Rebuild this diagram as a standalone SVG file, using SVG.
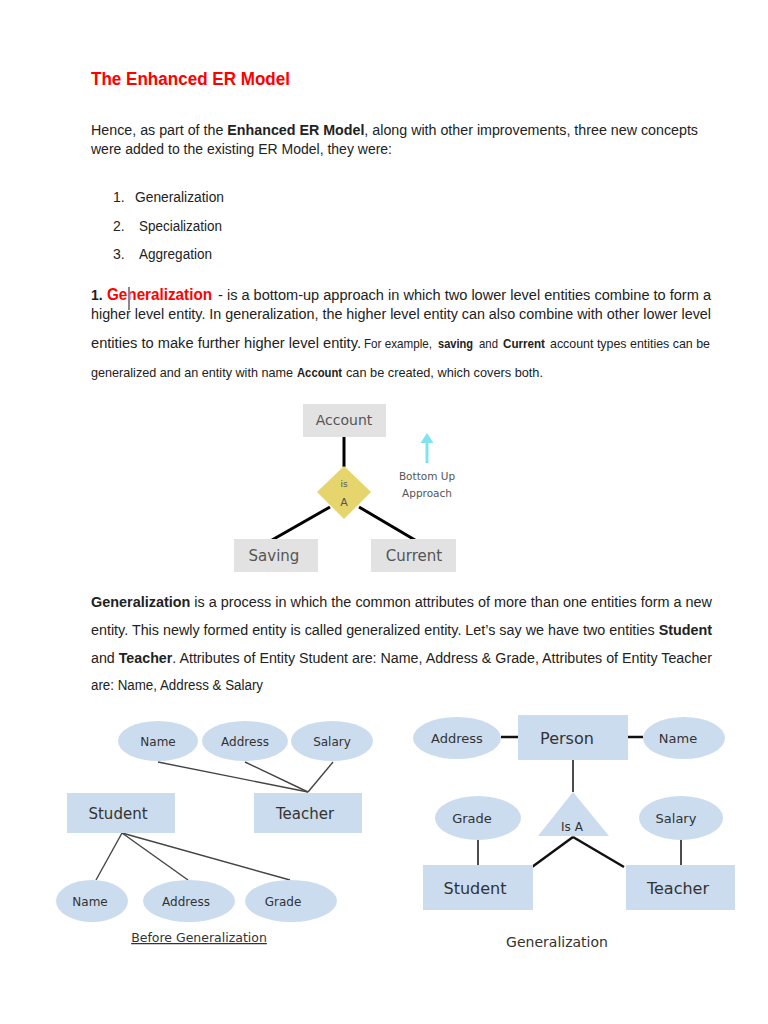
<svg xmlns="http://www.w3.org/2000/svg" width="768" height="1024" viewBox="0 0 768 1024">
<style>
.t{font-family:"Liberation Sans",Arial,sans-serif;font-size:14px;fill:#222}
.s{font-family:"Liberation Sans",Arial,sans-serif;font-size:13px;fill:#222}
.b{font-weight:bold}
.red{fill:#ff0000;font-weight:bold}
.d{font-family:"DejaVu Sans",sans-serif;fill:#333;text-anchor:middle}
.g{font-family:"DejaVu Sans",sans-serif;fill:#555;text-anchor:middle}
.ent{fill:#cbdcef}
.gent{fill:#e2e2e2}
.thin{stroke:#444;stroke-width:1.4;fill:none}
.thick{stroke:#111;stroke-width:2.5;fill:none}
.blk{stroke:#000;stroke-width:3;fill:none}
</style>
<rect width="768" height="1024" fill="#ffffff"/>

<!-- Text -->
<text class="red" x="91" y="85" font-family="Liberation Sans, Arial, sans-serif" font-size="18" textLength="199" lengthAdjust="spacingAndGlyphs">The Enhanced ER Model</text>

<text class="t" x="91" y="135" textLength="607" lengthAdjust="spacingAndGlyphs">Hence, as part of the <tspan class="b">Enhanced ER Model</tspan>, along with other improvements, three new concepts</text>
<text class="t" x="91" y="154" textLength="301" lengthAdjust="spacingAndGlyphs">were  added to the existing ER Model, they were:</text>

<text class="t" x="113" y="202">1.</text>
<text class="t" x="135" y="202" textLength="89" lengthAdjust="spacingAndGlyphs">Generalization</text>
<text class="t" x="113" y="231">2.</text>
<text class="t" x="139" y="231" textLength="83" lengthAdjust="spacingAndGlyphs">Specialization</text>
<text class="t" x="113" y="259">3.</text>
<text class="t" x="139" y="259" textLength="73" lengthAdjust="spacingAndGlyphs">Aggregation</text>

<text class="t b" x="91" y="300">1.</text>
<text class="red" x="107" y="300" font-family="Liberation Sans, Arial, sans-serif" font-size="16" textLength="105" lengthAdjust="spacingAndGlyphs">Generalization</text>
<line x1="129" y1="287" x2="129" y2="310" stroke="#888" stroke-width="2"/>
<text class="t" x="218" y="300" textLength="493" lengthAdjust="spacingAndGlyphs">- is a bottom-up approach in which two lower level entities combine to form a</text>
<text class="t" x="91" y="319" textLength="620" lengthAdjust="spacingAndGlyphs">higher level entity. In generalization, the higher level entity can also combine with other lower level</text>
<text class="t" x="91" y="348" textLength="270" lengthAdjust="spacingAndGlyphs">entities to make further higher level entity.</text>
<text class="s" x="364" y="348" textLength="68" lengthAdjust="spacingAndGlyphs">For example,</text>
<text class="s b" x="438" y="348" textLength="35" lengthAdjust="spacingAndGlyphs">saving</text>
<text class="s" x="479" y="348" textLength="19" lengthAdjust="spacingAndGlyphs">and</text>
<text class="s b" x="503" y="348" textLength="42" lengthAdjust="spacingAndGlyphs">Current</text>
<text class="s" x="550" y="348" textLength="160" lengthAdjust="spacingAndGlyphs">account types entities can be</text>
<text class="s" x="91" y="377" textLength="202" lengthAdjust="spacingAndGlyphs">generalized and an entity with name</text>
<text class="s b" x="297" y="377" textLength="45" lengthAdjust="spacingAndGlyphs">Account</text>
<text class="s" x="346" y="377" textLength="197" lengthAdjust="spacingAndGlyphs">can be created, which covers both.</text>

<text class="t" x="91" y="607" textLength="621" lengthAdjust="spacingAndGlyphs"><tspan class="b">Generalization</tspan> is a process in which the common attributes of more than one entities form a new</text>
<text class="t" x="91" y="635" textLength="621" lengthAdjust="spacingAndGlyphs">entity. This newly formed entity is called generalized entity. Let’s say we have two entities <tspan class="b">Student</tspan></text>
<text class="t" x="91" y="663" textLength="621" lengthAdjust="spacingAndGlyphs">and <tspan class="b">Teacher</tspan>. Attributes of Entity Student are: Name, Address &amp; Grade, Attributes of Entity Teacher</text>
<text class="t" x="91" y="690" textLength="172" lengthAdjust="spacingAndGlyphs">are: Name, Address &amp; Salary</text>

<!-- Diagram 1 connectors -->
<g id="connectors1">
<line class="blk" x1="344" y1="437" x2="344" y2="467"/>
<line class="blk" x1="330" y1="507" x2="272" y2="540"/>
<line class="blk" x1="359" y1="507" x2="415" y2="540"/>
<line x1="427" y1="463" x2="427" y2="441" stroke="#7fe4ef" stroke-width="3"/>
<polygon points="420.5,443 427,433 433.5,443" fill="#7fe4ef"/>
</g>
<g id="account"><rect class="gent" x="303" y="404" width="83" height="33"/><text class="g" x="344" y="425" font-size="14">Account</text></g>
<g id="isa1"><polygon points="344,466 371,492 344,519 317,492" fill="#e6d46c"/><text class="g" x="344" y="487" font-size="9">is</text><text class="g" x="344" y="506" font-size="11">A</text></g>
<g id="saving"><rect class="gent" x="234" y="539" width="84" height="33"/><text class="g" x="274" y="561" font-size="15">Saving</text></g>
<g id="current"><rect class="gent" x="371" y="539" width="85" height="33"/><text class="g" x="414" y="561" font-size="15">Current</text></g>
<g id="bottomup"><text class="g" x="427" y="480" font-size="10.5">Bottom Up</text><text class="g" x="427" y="497" font-size="10.5">Approach</text></g>

<!-- Diagram 2 -->
<g id="connectors2">
<line class="thin" x1="158" y1="762" x2="308" y2="792"/>
<line class="thin" x1="245" y1="762" x2="308" y2="792"/>
<line class="thin" x1="333" y1="762" x2="308" y2="792"/>
<line class="thin" x1="122" y1="833" x2="96" y2="880"/>
<line class="thin" x1="122" y1="833" x2="188" y2="880"/>
<line class="thin" x1="122" y1="833" x2="290" y2="880"/>
</g>
<g id="t-name"><ellipse class="ent" cx="158" cy="741" rx="40" ry="20"/><text class="d" x="158" y="746" font-size="12">Name</text></g>
<g id="t-address"><ellipse class="ent" cx="245" cy="741" rx="43" ry="20"/><text class="d" x="245" y="746" font-size="12">Address</text></g>
<g id="t-salary"><ellipse class="ent" cx="332" cy="741" rx="41" ry="20"/><text class="d" x="332" y="746" font-size="12">Salary</text></g>
<g id="student1"><rect class="ent" x="67" y="793" width="108" height="40"/><text class="d" x="118" y="819" font-size="15">Student</text></g>
<g id="teacher1"><rect class="ent" x="254" y="793" width="108" height="40"/><text class="d" x="305" y="819" font-size="15">Teacher</text></g>
<g id="s-name"><ellipse class="ent" cx="92" cy="901" rx="36" ry="21"/><text class="d" x="90" y="906" font-size="12">Name</text></g>
<g id="s-address"><ellipse class="ent" cx="189" cy="901" rx="46" ry="21"/><text class="d" x="186" y="906" font-size="12">Address</text></g>
<g id="s-grade"><ellipse class="ent" cx="291" cy="901" rx="46" ry="21"/><text class="d" x="283" y="906" font-size="12">Grade</text></g>
<g id="caption1"><text class="d" x="199" y="942" font-size="12.5" text-decoration="underline">Before Generalization</text></g>

<!-- Diagram 3 -->
<g id="connectors3">
<line class="thick" x1="501" y1="737" x2="518" y2="737"/>
<line class="thick" x1="628" y1="737" x2="643" y2="737"/>
<line x1="573" y1="760" x2="573" y2="792" stroke="#111" stroke-width="1.5"/>
<line class="thick" x1="573" y1="837" x2="532" y2="867"/>
<line class="thick" x1="573" y1="837" x2="624" y2="867"/>
<line x1="478" y1="840" x2="478" y2="865" stroke="#111" stroke-width="1.5"/>
<line x1="681" y1="840" x2="681" y2="865" stroke="#111" stroke-width="1.5"/>
</g>
<g id="p-address"><ellipse class="ent" cx="457" cy="738" rx="44" ry="21"/><text class="d" x="457" y="743" font-size="13">Address</text></g>
<g id="person"><rect class="ent" x="518" y="715" width="110" height="45"/><text class="d" x="567" y="744" font-size="16">Person</text></g>
<g id="p-name"><ellipse class="ent" cx="684" cy="738" rx="41" ry="21"/><text class="d" x="678" y="743" font-size="13">Name</text></g>
<g id="isa2"><polygon points="573,792 609,836 538,836" class="ent"/><text class="d" x="572" y="831" font-size="12">Is A</text></g>
<g id="grade"><ellipse class="ent" cx="478" cy="818" rx="43" ry="22"/><text class="d" x="472" y="823" font-size="13">Grade</text></g>
<g id="salary"><ellipse class="ent" cx="681" cy="818" rx="42" ry="22"/><text class="d" x="676" y="823" font-size="13">Salary</text></g>
<g id="student2"><rect class="ent" x="423" y="865" width="110" height="45"/><text class="d" x="475" y="894" font-size="16">Student</text></g>
<g id="teacher2"><rect class="ent" x="626" y="865" width="109" height="45"/><text class="d" x="678" y="894" font-size="16">Teacher</text></g>
<g id="caption2"><text class="d" x="557" y="947" font-size="14">Generalization</text></g>
</svg>
